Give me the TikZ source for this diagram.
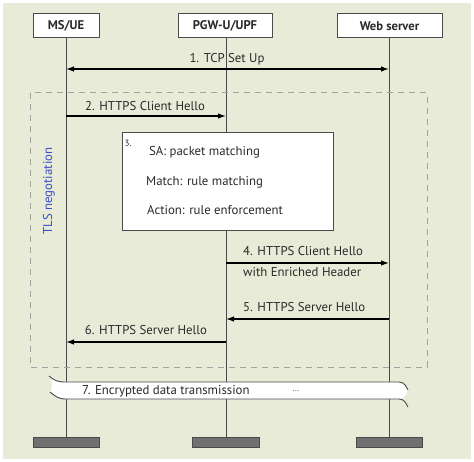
\documentclass[tikz,border=0pt]{standalone}
\usepackage{fontspec}
\setmainfont{PT Sans}
\usetikzlibrary{arrows.meta}
\definecolor{bgc}{HTML}{E7EBD8}
\definecolor{linec}{HTML}{4A4A4A}
\definecolor{txtc}{HTML}{2A2A2A}
\definecolor{dashc}{HTML}{A0A3A0}
\definecolor{barc}{HTML}{707070}
\definecolor{tlsc}{HTML}{3A4FC8}
\tikzset{
  headbox/.style={draw=linec, line width=1pt, fill=white, minimum height=24pt, inner sep=0pt, font=\bfseries\fontsize{12.6}{14}\selectfont, text=txtc},
  lifeline/.style={draw=linec, line width=0.9pt},
  msg/.style={draw=black, line width=1.2pt, -{Latex[length=8pt,width=5.5pt]}},
  lbl/.style={font=\fontsize{12.8}{14}\selectfont, text=txtc, inner sep=0pt},
  endbar/.style={draw=linec, fill=barc, line width=0.8pt},
}
\begin{document}
\begin{tikzpicture}[x=1pt,y=-1pt]
\useasboundingbox (0,0) rectangle (474,462);
\fill[white] (0,0) rectangle (474,462);
\fill[bgc] (3,3) rectangle (471,459);
% header boxes
\node[headbox, minimum width=66pt] (ms) at (66,26) {MS/UE};
\node[headbox, minimum width=94pt] (pgw) at (225,26) {PGW-U/UPF};
\node[headbox, minimum width=105pt] (web) at (389.5,26) {Web server};
% end bars
\coordinate (msb) at (66,437);
\coordinate (pgwb) at (226,437);
\coordinate (webb) at (389,437);
\draw[lifeline] (ms.south -| msb) -- (msb);
\draw[lifeline] (pgw.south -| pgwb) -- (pgwb);
\draw[lifeline] (web.south -| webb) -- (webb);
\draw[endbar] (33,437) rectangle (99,447);
\draw[endbar] (192,437) rectangle (259,447);
\draw[endbar] (356,437) rectangle (422,447);
% TLS dashed box
\draw[dashc, line width=1pt, dash pattern=on 6pt off 5pt] (30,93) rectangle (427,367);
\node[lbl, rotate=90, text=tlsc] (tls) at (49,191) {TLS negotiation};
% 1
\coordinate (m1a) at (66,69); \coordinate (m1b) at (389,69);
\draw[msg, {Latex[length=8pt,width=5.5pt]}-{Latex[length=8pt,width=5.5pt]}] (m1a) -- (m1b);
\node[lbl] (l1) at (227,59) {1. TCP Set Up};
% 2
\coordinate (m2a) at (66,116); \coordinate (m2b) at (226,116);
\draw[msg] (m2a) -- (m2b);
\node[lbl] (l2) at (145,106) {2. HTTPS Client Hello};
% 3
\draw[draw=linec, line width=1pt, fill=white] (122,133) rectangle (333,231);
\node[lbl, font=\fontsize{9}{10}\selectfont, anchor=north west] (n3) at (124.5,140) {3.};
\node[lbl, anchor=west] (sa) at (149,152) {SA: packet matching};
\node[lbl, anchor=west] (ma) at (146,182) {Match: rule matching};
\node[lbl, anchor=west] (ac) at (147,210) {Action: rule enforcement};
% 4
\coordinate (m4a) at (226,263); \coordinate (m4b) at (389,263);
\draw[msg] (m4a) -- (m4b);
\node[lbl, anchor=west] (l4a) at (243,251) {4. HTTPS Client Hello};
\node[lbl, anchor=west] (l4b) at (243,272) {with Enriched Header};
% 5
\coordinate (m5a) at (389,319); \coordinate (m5b) at (226,319);
\draw[msg] (m5a) -- (m5b);
\node[lbl, anchor=west] (l5) at (243,307) {5. HTTPS Server Hello};
% 6
\coordinate (m6a) at (226,342); \coordinate (m6b) at (66,342);
\draw[msg] (m6a) -- (m6b);
\node[lbl] (l6) at (146,330) {6. HTTPS Server Hello};
% 7 band
\fill[white] (49,376) .. controls (55,381) and (58,382) .. (66,382) -- (399,382)
  .. controls (404,382) and (406,386) .. (408,390)
  .. controls (406,394) and (405,399) .. (399,399) -- (66,399)
  .. controls (58,399) and (55,396) .. (50,392) .. controls (53,388) and (53,380) .. (49,376) -- cycle;
\draw[linec, line width=0.9pt] (49,376) .. controls (55,381) and (58,382) .. (66,382) -- (399,382)
  .. controls (404,382) and (406,386) .. (408,390);
\draw[linec, line width=0.9pt] (50,392) .. controls (55,396) and (58,399) .. (66,399) -- (399,399)
  .. controls (404,399) and (406,403) .. (408,407);
\node[lbl, anchor=west] (l7) at (82,391) {7. Encrypted data transmission};
\node[lbl, font=\fontsize{8}{9}\selectfont] (dots) at (296,391) {...};
\end{tikzpicture}
\end{document}
